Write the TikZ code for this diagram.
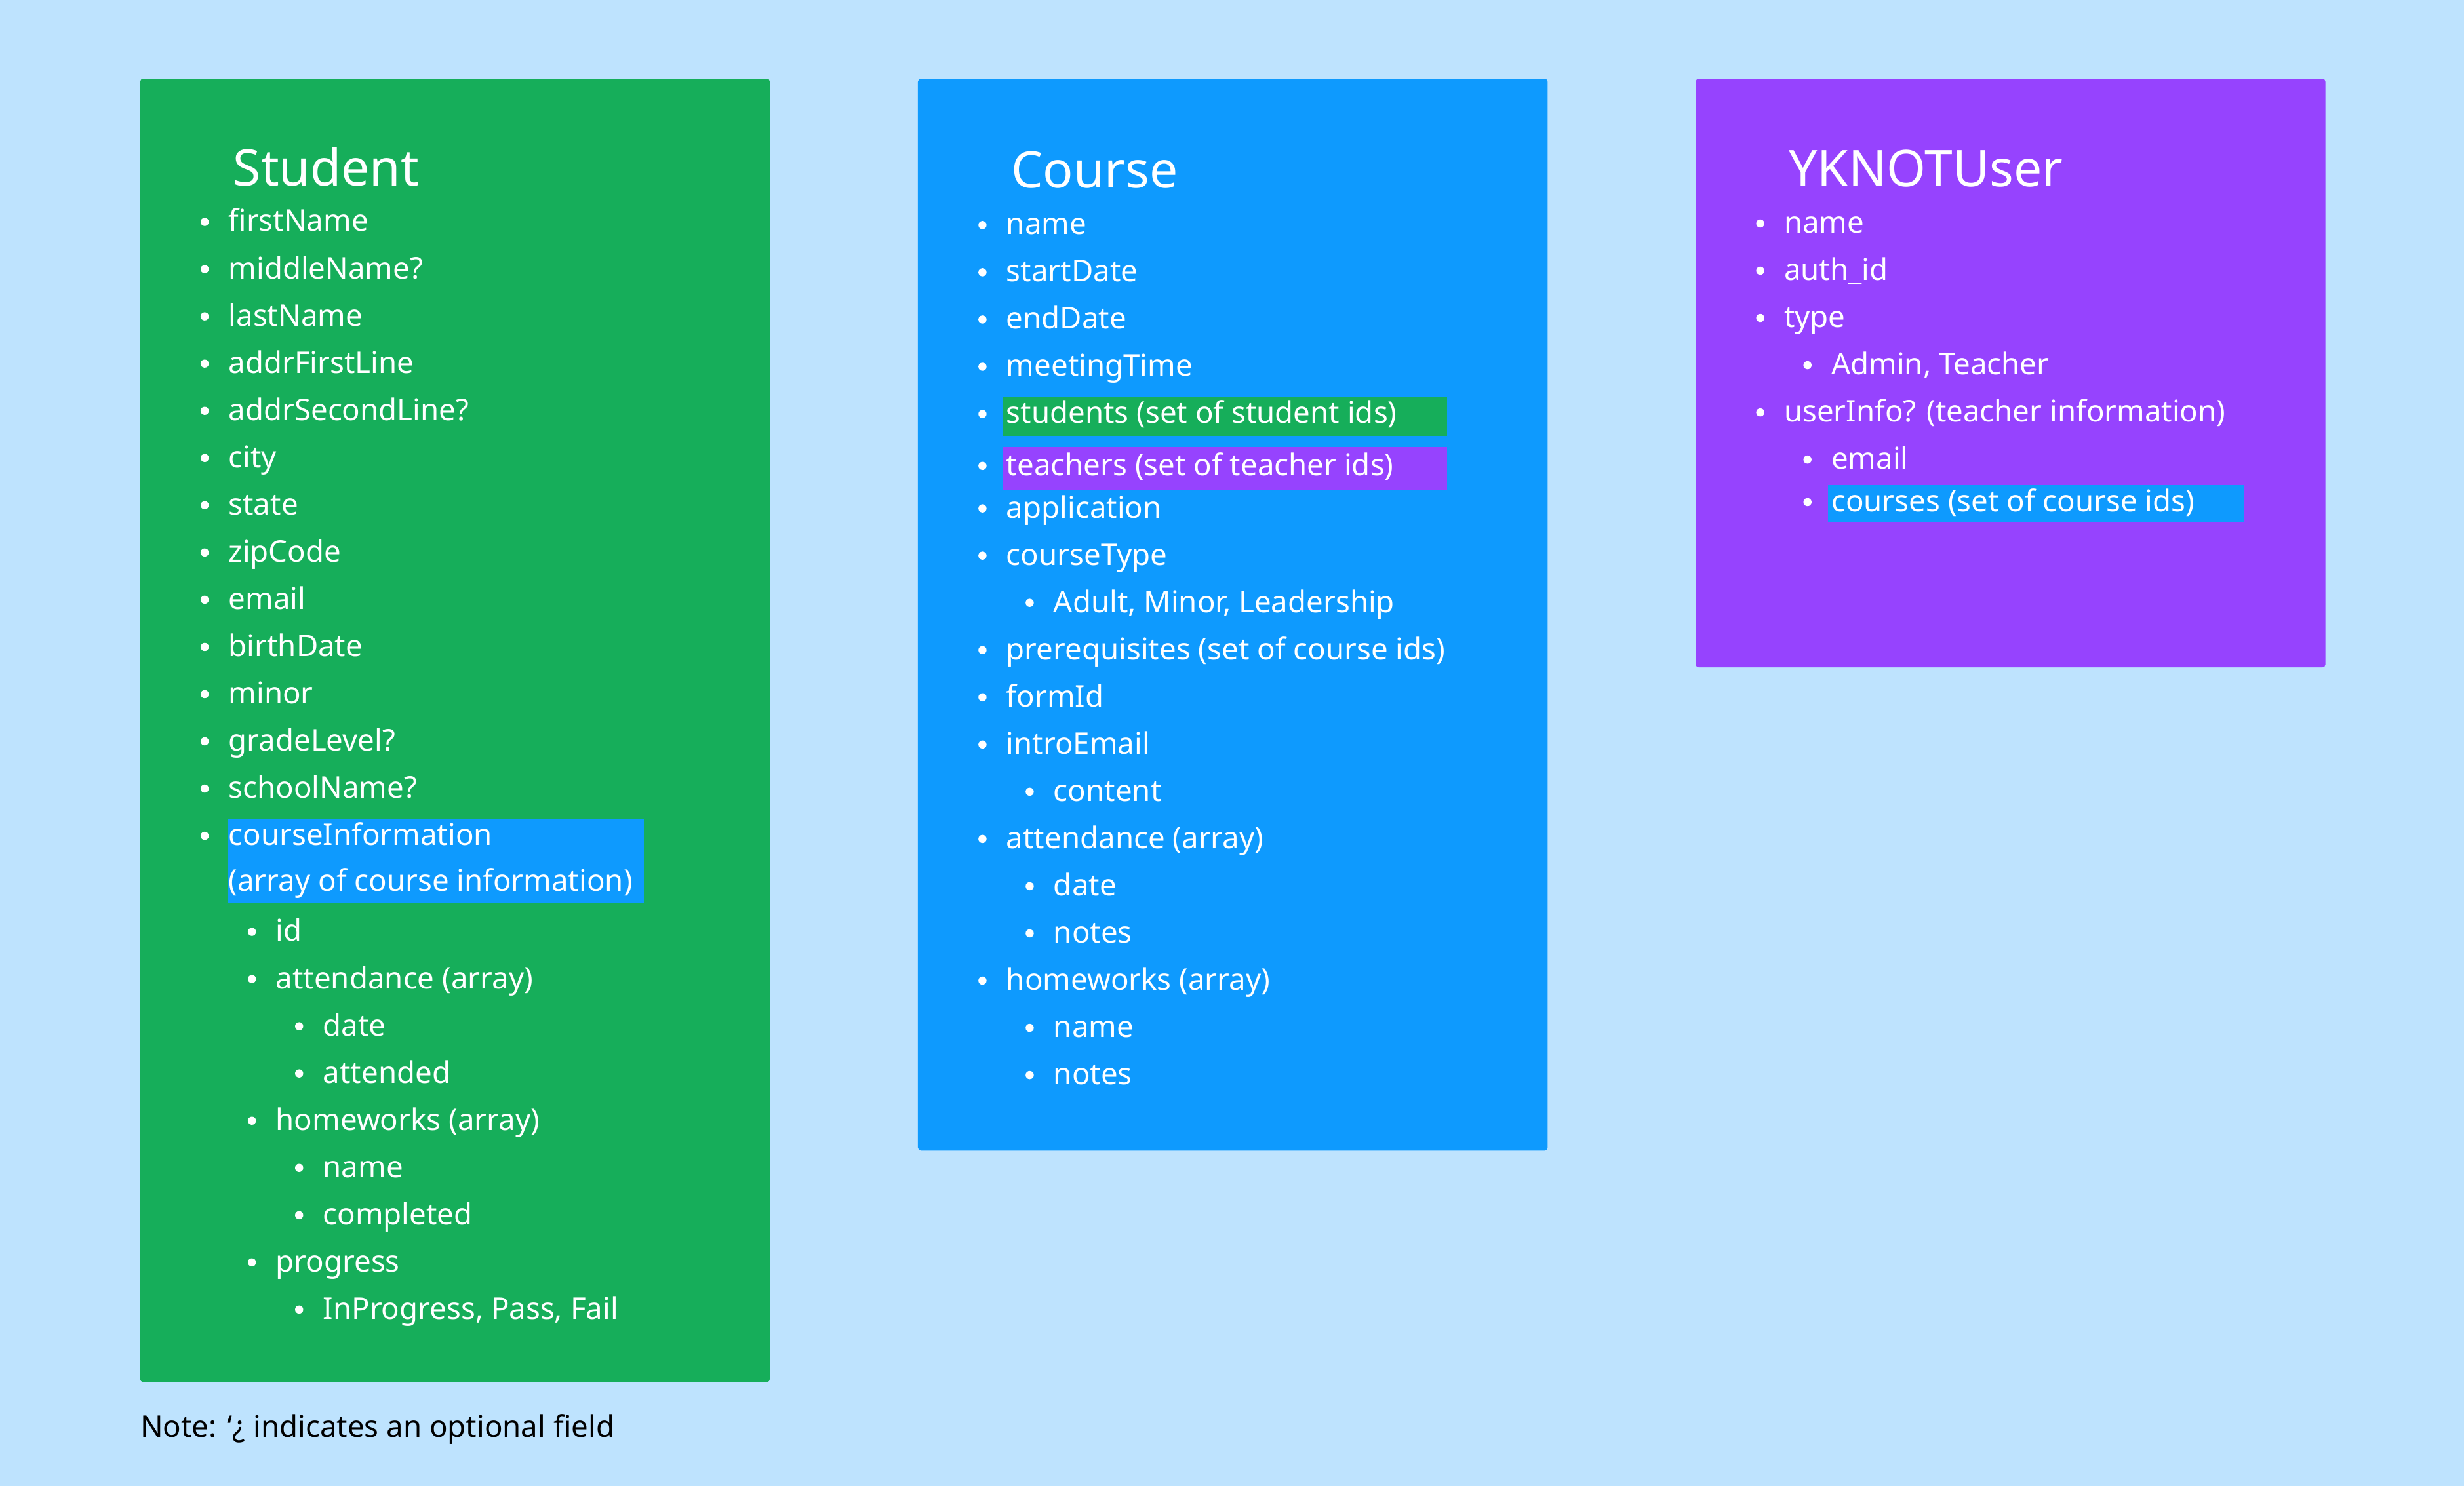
\documentclass[tikz,border=0pt]{standalone}
\usepackage{fontspec}
\setmainfont{Noto Sans}
\definecolor{bg}{HTML}{BEE3FE}
\definecolor{gr}{HTML}{16AE5A}
\definecolor{bl}{HTML}{0E9AFE}
\definecolor{pu}{HTML}{9643FE}
\tikzset{itemtxt/.style={anchor=west,inner sep=0pt,text=white,font=\fontsize{19}{19}\selectfont,text height=14pt,text depth=4pt},
ttl/.style={anchor=west,inner sep=0pt,text=white,font=\fontsize{32}{32}\selectfont},
card/.style={rounded corners=2pt}}
\newcommand{\fitem}[4]{\fill[white] (#2-15,#3) circle (2.6);\node[itemtxt] (#1) at (#2,#3+1) {#4};}
\begin{document}
\begin{tikzpicture}[x=1pt,y=-1pt]
\fill[bg] (0,0) rectangle (1565,944);
\useasboundingbox (0,0) rectangle (1565,944);
\fill[gr,card] (89,50) rectangle (489,878);
\fill[bl,card] (583,50) rectangle (983,731);
\fill[pu,card] (1077,50) rectangle (1477,424);
\fill[bl] (145,520) rectangle (409,574);
\fill[gr] (637,252) rectangle (919,277);
\fill[pu] (637,284) rectangle (919,311);
\fill[bl] (1161,308) rectangle (1425,332);
% Student
\node[ttl] (st) at (148,106) {Student};
\fitem{s1}{145}{141}{firstName}
\fitem{s2}{145}{171}{middleName?}
\fitem{s3}{145}{201}{lastName}
\fitem{s4}{145}{231}{addrFirstLine}
\fitem{s5}{145}{261}{addrSecondLine?}
\fitem{s6}{145}{291}{city}
\fitem{s7}{145}{321}{state}
\fitem{s8}{145}{351}{zipCode}
\fitem{s9}{145}{381}{email}
\fitem{s10}{145}{411}{birthDate}
\fitem{s11}{145}{441}{minor}
\fitem{s12}{145}{471}{gradeLevel?}
\fitem{s13}{145}{501}{schoolName?}
\fitem{s14}{145}{531}{courseInformation}
\node[itemtxt] (s14b) at (145,561) {(array of course information)};
\fitem{s15}{175}{592}{id}
\fitem{s16}{175}{622}{attendance (array)}
\fitem{s17}{205}{652}{date}
\fitem{s18}{205}{682}{attended}
\fitem{s19}{175}{712}{homeworks (array)}
\fitem{s20}{205}{742}{name}
\fitem{s21}{205}{772}{completed}
\fitem{s22}{175}{802}{progress}
\fitem{s23}{205}{832}{InProgress, Pass, Fail}
% Course
\node[ttl] (co) at (642,108) {Course};
\fitem{c1}{639}{143}{name}
\fitem{c2}{639}{173}{startDate}
\fitem{c3}{639}{203}{endDate}
\fitem{c4}{639}{233}{meetingTime}
\fitem{c5}{639}{263}{students (set of student ids)}
\fitem{c6}{639}{296}{teachers (set of teacher ids)}
\fitem{c7}{639}{323}{application}
\fitem{c8}{639}{353}{courseType}
\fitem{c9}{669}{383}{Adult, Minor, Leadership}
\fitem{c10}{639}{413}{prerequisites (set of course ids)}
\fitem{c11}{639}{443}{formId}
\fitem{c12}{639}{473}{introEmail}
\fitem{c13}{669}{503}{content}
\fitem{c14}{639}{533}{attendance (array)}
\fitem{c15}{669}{563}{date}
\fitem{c16}{669}{593}{notes}
\fitem{c17}{639}{623}{homeworks (array)}
\fitem{c18}{669}{653}{name}
\fitem{c19}{669}{683}{notes}
% User
\node[ttl] (us) at (1136,107) {YKNOTUser};
\fitem{u1}{1133}{142}{name}
\fitem{u2}{1133}{172}{auth\_id}
\fitem{u3}{1133}{202}{type}
\fitem{u4}{1163}{232}{Admin, Teacher}
\fitem{u5}{1133}{262}{userInfo? (teacher information)}
\fitem{u6}{1163}{292}{email}
\fitem{u7}{1163}{319}{courses (set of course ids)}
\node[itemtxt,text=black] (note) at (89,908) {Note: `?` indicates an optional field};
\end{tikzpicture}
\end{document}
